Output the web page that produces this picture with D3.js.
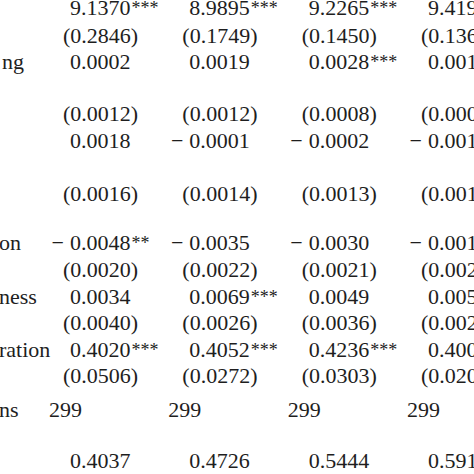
<!DOCTYPE html>
<html><head><meta charset="utf-8">
<script src="https://cdn.jsdelivr.net/npm/d3@7"></script>
<style>body{margin:0;background:#fff}svg{display:block}</style>
</head><body><div id="c"></div>
<script>
const models = ["(1)","(2)","(3)","(4)"];
const rowLabels = ["Constant","Training","Experience","Education","Openness","Concentration","Observations","R2"];
const coef = [
  ["9.1370***","8.9895***","9.2265***","9.4190***"],
  ["0.0002","0.0019","0.0028***","0.0010"],
  ["0.0018","-0.0001","-0.0002","-0.0010"],
  ["-0.0048**","-0.0035","-0.0030","-0.0010"],
  ["0.0034","0.0069***","0.0049","0.0050"],
  ["0.4020***","0.4052***","0.4236***","0.4000***"],
  ["299","299","299","299"],
  ["0.4037","0.4726","0.5444","0.5910"]
];
const se = [
  ["0.2846","0.1749","0.1450","0.1360"],
  ["0.0012","0.0012","0.0008","0.0009"],
  ["0.0016","0.0014","0.0013","0.0010"],
  ["0.0020","0.0022","0.0021","0.0020"],
  ["0.0040","0.0026","0.0036","0.0020"],
  ["0.0506","0.0272","0.0303","0.0200"],
  null, null
];
const leftText = ["","ng","","on","ness","ration","ns",""];
const coefY = [15,69,148,250,304,357,417,468];
const seY = [43,121,201,277,330,383,null,null];

const W=474,H=474;
const svg=d3.select("#c").append("svg").attr("width",W).attr("height",H)
  .style("font-family","'Liberation Serif',serif").style("font-size","22px").attr("fill","#1e1e1e");
const x=d3.scalePoint().domain(models).range([70,428]);

rowLabels.forEach((r,i)=>{
  if(leftText[i]) svg.append("text").attr("x",i===1?2:-1).attr("y",coefY[i]).text(leftText[i]);
  coef[i].forEach((v,j)=>{
    const xx=x(models[j]);
    if(i===6){svg.append("text").attr("x",xx-21).attr("y",coefY[i]).text(v);return;}
    const neg=v.startsWith("-"); const body=neg?v.slice(1):v;
    const m=body.match(/^([0-9.]+)(\**)$/);
    if(neg) svg.append("text").attr("x",xx-6).attr("y",coefY[i]).attr("text-anchor","end").text("\u2212");
    const t=svg.append("text").attr("x",xx).attr("y",coefY[i]);
    t.append("tspan").text(m[1]);
    if(m[2]) t.append("tspan").attr("dy",-1).style("font-size","18px").attr("dx",1).text(m[2]);
    if(se[i]) svg.append("text").attr("x",xx-7).attr("y",seY[i]).text("("+se[i][j]+")");
  });
});
</script></body></html>
